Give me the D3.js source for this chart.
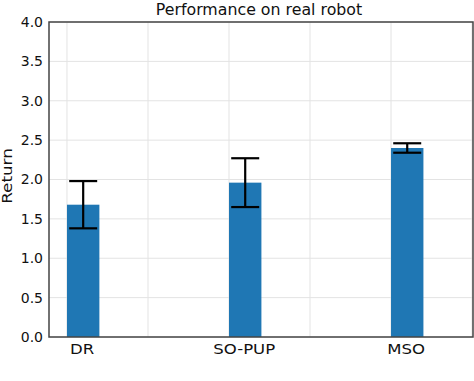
<!DOCTYPE html>
<html><head><meta charset="utf-8">
<script src="https://cdn.jsdelivr.net/npm/d3@7"></script>
<style>body{margin:0;background:#fff}svg{display:block}text{font-family:"DejaVu Sans",sans-serif}</style>
</head><body><svg id="c" width="474" height="381"></svg>
<script>
const categories = ["DR", "SO-PUP", "MSO"];
const positions = [0, 1, 2];
const returns = [1.68, 1.96, 2.40];
const errors = [0.30, 0.31, 0.06];
const yTicks = [0, 0.5, 1, 1.5, 2, 2.5, 3, 3.5, 4];
const xGrid = [0, 0.5, 1, 1.5, 2, 2.5];
const barWidth = 0.2;

const svg = d3.select("#c");
const L = 49, R = 473, T = 22, B = 337;
const x = d3.scaleLinear().domain([-0.111, 2.506]).range([L, R]);
const y = d3.scaleLinear().domain([0, 4]).range([B, T]);

svg.append("g").selectAll("line.h").data(yTicks).join("line")
  .attr("x1", L).attr("x2", R).attr("y1", d => y(d)).attr("y2", d => y(d))
  .attr("stroke", "#e3e3e3").attr("stroke-width", 1);
svg.append("g").selectAll("line.v").data(xGrid).join("line")
  .attr("y1", T).attr("y2", B).attr("x1", d => x(d)).attr("x2", d => x(d))
  .attr("stroke", "#e3e3e3").attr("stroke-width", 1);

svg.append("g").selectAll("rect").data(positions).join("rect")
  .attr("x", d => x(d)).attr("width", (d) => x(d + barWidth) - x(d))
  .attr("y", (d, i) => y(returns[i])).attr("height", (d, i) => y(0) - y(returns[i]))
  .attr("fill", "#1f77b4");

const eg = svg.append("g").attr("stroke", "#000").attr("stroke-width", 2.2);
positions.forEach((p, i) => {
  const cx = x(p + barWidth / 2);
  const lo = y(returns[i] - errors[i]), hi = y(returns[i] + errors[i]);
  eg.append("line").attr("x1", cx).attr("x2", cx).attr("y1", lo).attr("y2", hi);
  eg.append("line").attr("x1", cx - 14).attr("x2", cx + 14).attr("y1", lo).attr("y2", lo);
  eg.append("line").attr("x1", cx - 14).attr("x2", cx + 14).attr("y1", hi).attr("y2", hi);
});

const yAxis = d3.axisLeft(y).tickValues(yTicks).tickFormat(d3.format(".1f")).tickSize(0).tickPadding(6);
const ga = svg.append("g").attr("transform", `translate(${L},0)`).call(yAxis);
ga.select(".domain").remove();
ga.selectAll("text").attr("font-size", 14).attr("fill", "#111").attr("font-family", "DejaVu Sans");

const xAxis = d3.axisBottom(x).tickValues(positions.map(p => p + barWidth / 2))
  .tickFormat((d, i) => categories[i]).tickSize(0).tickPadding(0);
const gx = svg.append("g").attr("transform", `translate(0,${B})`).call(xAxis);
gx.select(".domain").remove();
gx.selectAll(".tick text").attr("dy", null).attr("y", 0)
  .attr("font-size", 14).attr("fill", "#111").attr("font-family", "DejaVu Sans")
  .attr("transform", "translate(-1.5,16.5) scale(1.18,1)");

svg.append("rect").attr("x", L).attr("y", T).attr("width", R - L).attr("height", B - T)
  .attr("fill", "none").attr("stroke", "#444").attr("stroke-width", 1.5);

svg.append("text").attr("x", 259).attr("y", 15).attr("text-anchor", "middle")
  .attr("font-size", 15.8).attr("fill", "#111").text("Performance on real robot");
svg.append("text").attr("transform", `translate(12,176) rotate(-90) scale(1.2,1)`)
  .attr("text-anchor", "middle").attr("font-size", 14).attr("fill", "#111").text("Return");
</script></body></html>
